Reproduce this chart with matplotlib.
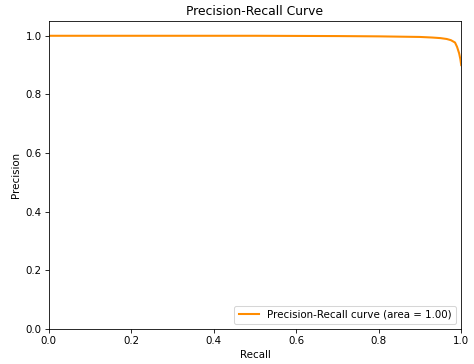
import matplotlib

matplotlib.use("Agg")
import matplotlib.pyplot as plt

# values
recall = [0.0, 0.3, 0.5, 0.7, 0.8, 0.85, 0.9, 0.93, 0.95, 0.965, 0.975, 0.985, 0.99, 0.995, 0.998, 1.0]
precision = [1.0, 1.0, 1.0, 0.999, 0.998, 0.997, 0.996, 0.994, 0.992, 0.989, 0.985, 0.977, 0.962, 0.94, 0.92, 0.90]
pr_auc = 1.00

DPI = 474 / 6.4
fig, ax = plt.subplots(figsize=(6.4, 364 / DPI), dpi=DPI)
ax.plot(recall, precision, color="darkorange", lw=2,
        label=f"Precision-Recall curve (area = {pr_auc:.2f})")
ax.set_xlim(0.0, 1.0)
ax.set_ylim(0.0, 1.05)
ax.set_xlabel("Recall")
ax.set_ylabel("Precision")
ax.set_title("Precision-Recall Curve")
ax.legend(loc="lower right")
fig.subplots_adjust(left=0.103, right=0.973, top=0.942, bottom=0.096)
fig.savefig("out.png", dpi=DPI)
